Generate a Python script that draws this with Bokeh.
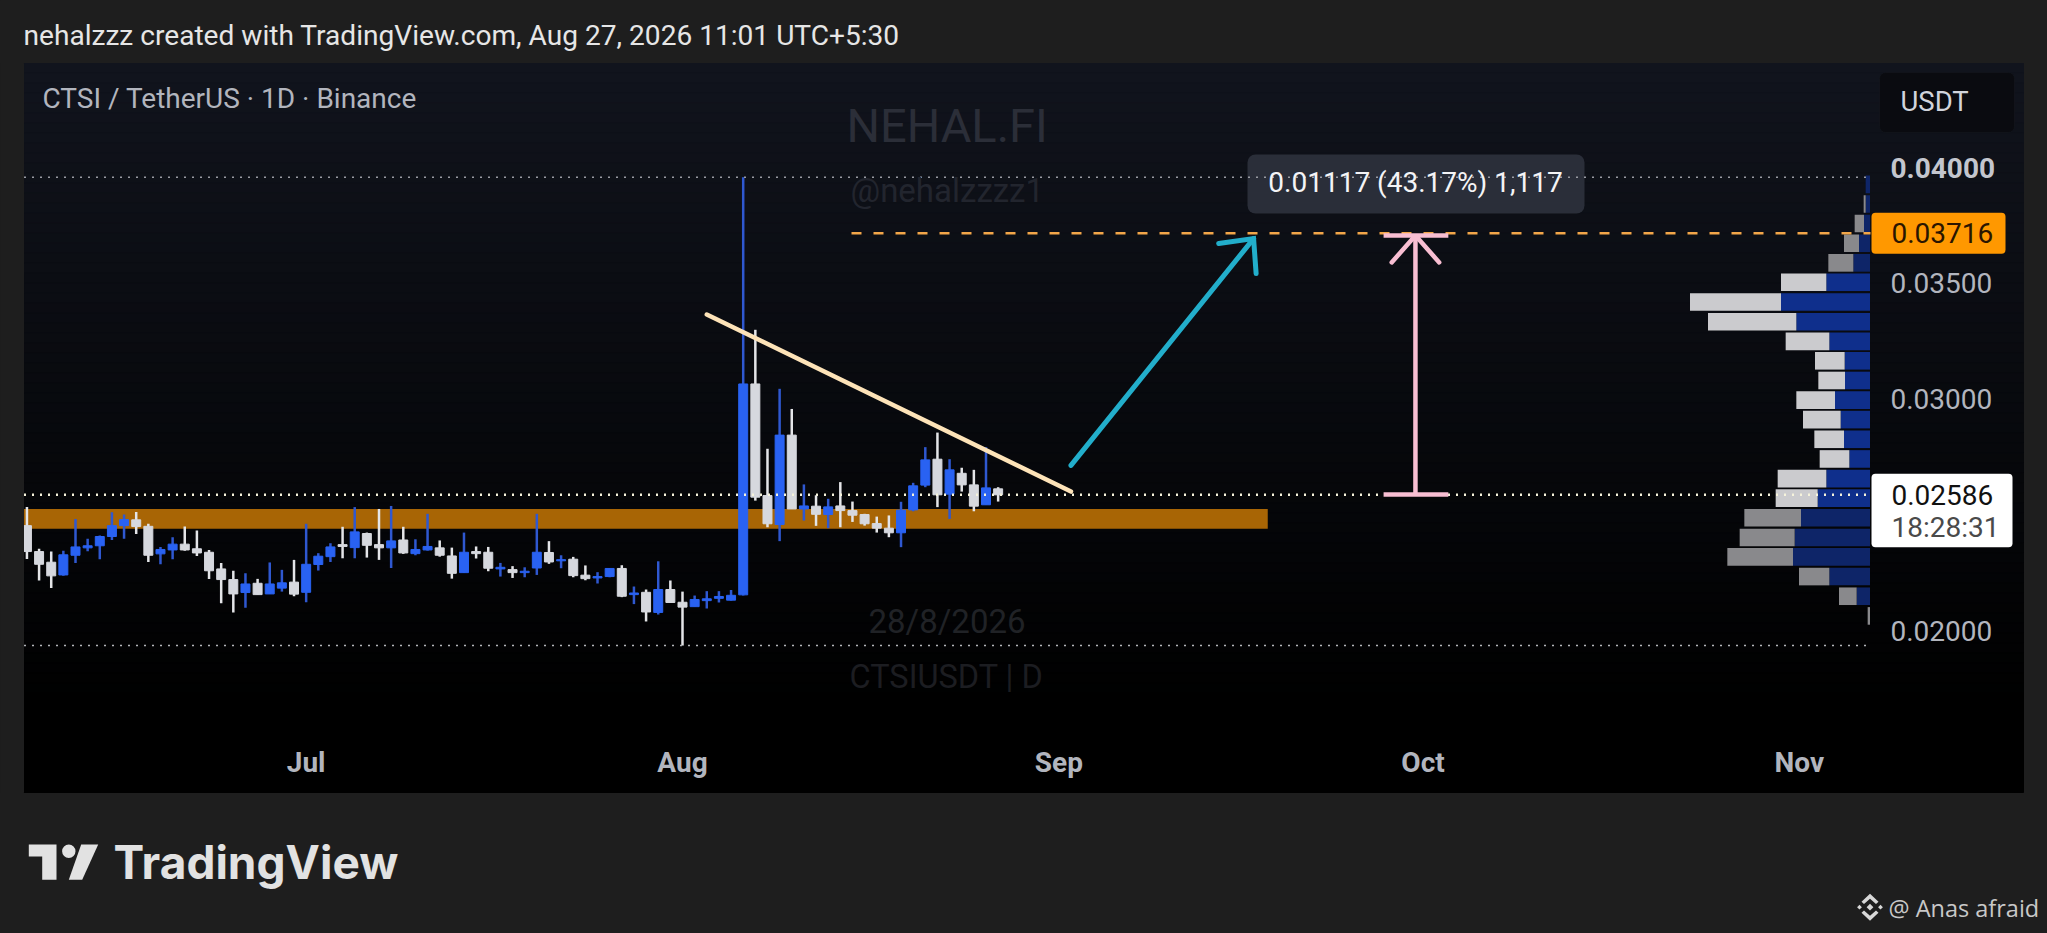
import numpy as np
import pandas as pd
from bokeh.embed import file_html
from bokeh.resources import INLINE
from bokeh.plotting import figure
from bokeh.models import (Range1d, LinearAxis, DatetimeAxis, FixedTicker, NumeralTickFormatter,
                          DatetimeTickFormatter, Label, BoxAnnotation)

# ---------- chart data (prices in points, 1 point = 0.00001 USDT) ----------
first_day = "2026-06-08"
opens_pts = [2453,2341,2295,2240,2325,2357,2366,2406,2453,2478,2450,2331,2348,2373,2353,2338,2266,2220,2164,2204,
             2158,2183,2209,2165,2285,2319,2371,2358,2419,2371,2357,2391,2332,2348,2357,2322,2250,2341,2338,2266,
             2263,2250,2270,2337,2301,2308,2239,2227,2233,2268,2155,2165,2078,2177,2122,2103,2129,2139,2131,2154,
             3065,2583,2458,2844,2525,2537,2501,2538,2518,2501,2462,2442,2422,2521,2628,2740,2589,2679,2629,2543,2612]
highs_pts = [2533,2353,2341,2345,2482,2396,2410,2511,2501,2512,2461,2361,2403,2449,2432,2348,2292,2258,2247,2223,
             2294,2262,2305,2461,2334,2377,2448,2533,2423,2525,2538,2448,2394,2504,2389,2358,2423,2363,2361,2292,
             2278,2273,2504,2386,2325,2318,2281,2252,2268,2282,2190,2177,2299,2216,2168,2151,2170,2170,2175,3958,
             3299,2785,3044,2957,2631,2584,2569,2641,2557,2504,2492,2497,2556,2638,2792,2855,2740,2703,2694,2792,2619]
lows_pts = [2309,2216,2184,2237,2292,2342,2308,2391,2396,2417,2296,2286,2308,2345,2322,2222,2118,2078,2098,2155,
            2158,2168,2148,2122,2259,2296,2312,2312,2315,2305,2270,2331,2325,2345,2319,2224,2249,2311,2256,2233,
            2227,2230,2240,2288,2269,2230,2217,2203,2230,2144,2114,2039,2069,2121,1935,2103,2095,2121,2129,2151,
            2561,2446,2386,2525,2475,2452,2442,2446,2469,2453,2423,2403,2360,2515,2619,2533,2482,2600,2515,2544,2557]
closes_pts = [2341,2286,2236,2327,2361,2366,2406,2453,2479,2449,2325,2350,2373,2348,2335,2258,2220,2158,2201,2155,
              2201,2206,2157,2286,2321,2361,2363,2426,2368,2357,2387,2335,2350,2363,2325,2247,2338,2332,2269,2273,
              2250,2256,2338,2296,2306,2237,2224,2233,2268,2148,2162,2080,2177,2121,2101,2134,2137,2147,2152,3065,
              2576,2461,2844,2525,2538,2502,2534,2518,2498,2461,2442,2422,2520,2625,2737,2586,2694,2629,2537,2616,2586]

day_high_pts = 3958
day_low_pts = 1935
last_pts = 2586
target_pts = 3716
band_top_pts, band_bottom_pts = 2525, 2440
band_dates = ["2026-06-07 18:00", "2026-09-18 05:00"]

trend_dates = ["2026-08-03 00:00", "2026-09-02 00:00"]
trend_pts = [3365, 2600]
arrow_dates = ["2026-09-02 00:00", "2026-09-17 01:00"]
arrow_pts = [2713, 3693]
head_dates = ["2026-09-14 04:00", "2026-09-17 01:00", "2026-09-17 06:00"]
head_pts = [3672, 3693, 3542]
pink_dates = ["2026-09-30 09:00", "2026-09-30 09:00"]
pink_pts = [2588, 3706]
pink_cap_dates = ["2026-09-27 18:00", "2026-10-03 02:00"]
pink_head_dates = ["2026-09-28 10:00", "2026-09-30 09:00", "2026-10-02 08:00"]
pink_head_pts = [3590, 3706, 3590]

vp_rows_pts = [3927,3842,3758,3673,3588,3504,3419,3334,3249,3165,3080,2995,2911,2826,2741,2656,2572,2487,2402,2318,2233,2148,2063]
vp_up = [13,13,18,33,50,131,267,221,122,76,75,105,88,78,62,131,157,207,226,231,122,40,0]
vp_down = [0,6,28,45,75,136,273,265,131,89,80,116,113,89,89,146,126,170,165,197,91,53,7]
vp_in_value_area = [0,0,0,0,0,1,1,1,1,1,1,1,1,1,1,1,1,0,0,0,0,0,0]

month_ticks = ["2026-07-01", "2026-08-01", "2026-09-01", "2026-10-01", "2026-11-01"]
price_ticks = [0.02, 0.03, 0.035]
bold_price_ticks = [0.04]

# ---------- scales: one price/time scale, one page-pixel scale for the chrome ----------
BG = "#1e1e1e"
PX_PER_DAY = 12.14
W, H = 2047, 933
aug1 = pd.Timestamp("2026-08-01")
def ms(ts):
    return (ts - pd.Timestamp("1970-01-01")) / pd.Timedelta(milliseconds=1)
x_start = ms(aug1 + pd.Timedelta(days=(0 - 682) / PX_PER_DAY))
x_end = ms(aug1 + pd.Timedelta(days=(W - 682) / PX_PER_DAY))
y_top = 0.04 + 167 / 23150
y_bot = 0.04 - (H - 167) / 23150

p = figure(width=W, height=H, output_backend="svg", toolbar_location=None,
           x_axis_type=None, y_axis_type=None,
           x_range=Range1d(x_start, x_end), y_range=Range1d(y_bot, y_top),
           background_fill_color=BG, border_fill_color=BG,
           min_border=0, min_border_left=0, min_border_right=0, min_border_top=0, min_border_bottom=0)
p.outline_line_color = None
p.grid.visible = False
p.extra_x_ranges["px"] = Range1d(0, W)
p.extra_y_ranges["px"] = Range1d(H, 0)
# volume profile: 0 at the price axis, growing leftwards (1 unit = 1/3 px)
p.extra_x_ranges["vp"] = Range1d(1869.5 * 3, (1869.5 - W) * 3)

PX = dict(x_range_name="px", y_range_name="px")

# ---------- panel gradient ----------
P_L, P_R, P_T, P_B = 23.5, 2023, 63, 792
edges = np.linspace(P_T, P_B, 74)
cols = []
for e in edges[:-1]:
    t = min(1.0, (e - P_T) / (700 - P_T))
    cols.append("#%02x%02x%02x" % (round(17 * (1 - t)), round(20 * (1 - t)), round(29 * (1 - t))))
p.quad(left=P_L, right=P_R, top=edges[:-1], bottom=edges[1:], fill_color=cols, line_color=cols,
       level="image", **PX)

def label(x, y, text, size, color, align="left", style="normal", font="Roboto"):
    lb = Label(x=x, y=y, text=text, text_font=font, text_font_size=f"{size}px", text_color=color,
               text_align=align, text_baseline="middle", text_font_style=style, **PX)
    p.add_layout(lb)
    return lb

# ---------- watermark ----------
label(846, 125, "NEHAL.FI", 47, "#2b2e38")
label(850, 190, "@nehalzzzz1", 33, "#22252e")
label(868, 621, "28/8/2026", 33, "#202226")
label(849, 676, "CTSIUSDT | D", 32.5, "#1c1d21")

# tooltip box under the dotted high line
p.add_layout(BoxAnnotation(left=1247, right=1584, top=154, bottom=213, fill_color="#2a2e39", fill_alpha=1,
                           line_color=None, border_radius=8, level="underlay", **PX))

# ---------- band ----------
p.quad(left=pd.to_datetime(band_dates[:1]), right=pd.to_datetime(band_dates[1:]),
       top=[band_top_pts * 1e-5], bottom=[band_bottom_pts * 1e-5], fill_color="#a86505", line_color=None)

# ---------- candles ----------
dates = pd.date_range(first_day, periods=len(opens_pts), freq="D")
o = np.array(opens_pts) * 1e-5
h = np.array(highs_pts) * 1e-5
l = np.array(lows_pts) * 1e-5
c = np.array(closes_pts) * 1e-5
up = c >= o
wick_col = ["#2f58d0" if u else "#e4e5e8" for u in up]
body_col = ["#2962f2" if u else "#d6d8de" for u in up]
p.segment(x0=dates, x1=dates, y0=l, y1=h, line_color=wick_col, line_width=2.5)
p.vbar(x=dates, width=0.74 * 86400000, top=np.maximum(o, c), bottom=np.minimum(o, c),
       fill_color=body_col, line_color=body_col, line_width=1)

# ---------- volume profile ----------
rows = np.array(vp_rows_pts) * 1e-5
vu = np.array(vp_up)
vd = np.array(vp_down)
blue_cols = ["#0f2f8c" if a else "#0e2568" for a in vp_in_value_area]
grey_cols = ["#cbcbce" if a else "#89898c" for a in vp_in_value_area]
p.hbar(y=rows, height=76e-5 / 1, left=0, right=vu, fill_color=blue_cols, line_color=None, x_range_name="vp")
p.hbar(y=rows, height=76e-5 / 1, left=vu, right=vu + vd, fill_color=grey_cols, line_color=None, x_range_name="vp")

# ---------- extended levels ----------
p.line([P_L, 1870], [day_high_pts * 1e-5] * 2, line_color="#9a9ca3", line_width=1.5, line_dash="2 6", x_range_name="px")
p.line([P_L, 1870], [day_low_pts * 1e-5] * 2, line_color="#b5b6ba", line_width=1.5, line_dash="2 6", x_range_name="px")
p.line([P_L, 1870], [last_pts * 1e-5] * 2, line_color="#f6f3dc", line_width=2.5, line_dash="2 6", x_range_name="px")
p.line([851, 1870], [target_pts * 1e-5] * 2, line_color="#f2a649", line_width=2.5, line_dash="10 12", x_range_name="px")

# ---------- drawings ----------
def pts(a):
    return np.array(a) * 1e-5
p.line(pd.to_datetime(trend_dates), pts(trend_pts), line_color="#fde3b8", line_width=4.5, line_cap="round")
p.line(pd.to_datetime(arrow_dates), pts(arrow_pts), line_color="#22aecb", line_width=5, line_cap="round")
p.line(pd.to_datetime(head_dates), pts(head_pts), line_color="#22aecb", line_width=5, line_cap="round", line_join="miter")
pink = "#f8bed2"
p.line(pd.to_datetime(pink_dates), pts(pink_pts), line_color=pink, line_width=4.5)
p.line(pd.to_datetime(pink_head_dates), pts(pink_head_pts), line_color=pink, line_width=4.5, line_cap="round")
p.line(pd.to_datetime(pink_cap_dates), pts([pink_pts[0]] * 2), line_color=pink, line_width=4.5)
p.line(pd.to_datetime(pink_cap_dates), pts([pink_pts[1]] * 2), line_color=pink, line_width=4.5)

# margin strip: keeps the first candle inside the panel
p.quad(left=[0], right=[P_L], top=[P_T], bottom=[P_B], fill_color=BG, line_color=None, **PX)

# ---------- axes ----------
AX = "#b2b5be"
yax = LinearAxis(x_range_name="px", fixed_location=1870, ticker=FixedTicker(ticks=price_ticks),
                 formatter=NumeralTickFormatter(format="0.00000"))
yax2 = LinearAxis(x_range_name="px", fixed_location=1870, ticker=FixedTicker(ticks=bold_price_ticks),
                  formatter=NumeralTickFormatter(format="0.00000"))
for ax, st, col in ((yax, "normal", AX), (yax2, "bold", "#c3c6ce")):
    ax.axis_line_color = None
    ax.major_tick_line_color = None
    ax.minor_tick_line_color = None
    ax.major_label_standoff = 14
    ax.major_label_text_font = "Roboto"
    ax.major_label_text_font_size = "28px"
    ax.major_label_text_font_style = st
    ax.major_label_text_color = col
    p.add_layout(ax, "right")

xax = DatetimeAxis(y_range_name="px", fixed_location=732,
                   ticker=FixedTicker(ticks=[ms(pd.Timestamp(m)) for m in month_ticks]),
                   formatter=DatetimeTickFormatter(milliseconds="%b", seconds="%b", minsec="%b", minutes="%b",
                                                   hourmin="%b", hours="%b", days="%b", months="%b", years="%b",
                                                   context=None))
xax.axis_line_color = None
xax.major_tick_line_color = None
xax.minor_tick_line_color = None
xax.major_label_standoff = 7
xax.major_label_text_font = "Roboto"
xax.major_label_text_font_size = "28px"
xax.major_label_text_font_style = "bold"
xax.major_label_text_color = AX
p.add_layout(xax, "below")

# ---------- price tags ----------
p.add_layout(BoxAnnotation(left=1871, right=2005, top=212.3, bottom=253.3, fill_color="#ff9800", fill_alpha=1,
                           line_color=None, border_radius=4, **PX))
label(1891, 232.7, "0.03716", 28, "#2a1500")
p.add_layout(BoxAnnotation(left=1871, right=2012, top=473.3, bottom=546.7, fill_color="#ffffff", fill_alpha=1,
                           line_color=None, border_radius=4, **PX))
label(1891, 494, "0.02586", 28, "#111111")
label(1891, 527, "18:28:31", 28, "#4a4a4a")
p.add_layout(BoxAnnotation(left=1879, right=2014, top=72, bottom=132, fill_color="#0a0b10", fill_alpha=1,
                           line_color="#1f2128", line_width=1, border_radius=6, **PX))
label(1900, 101, "USDT", 27.5, "#d1d4dc")

# ---------- texts ----------
label(1415, 182, "0.01117 (43.17%) 1,117", 28, "#f4f4f6", align="center")
label(23, 35, "nehalzzz created with TradingView.com, Aug 27, 2026 11:01 UTC+5:30", 28.1, "#e6e6e6")
label(42, 98, "CTSI / TetherUS \u00b7 1D \u00b7 Binance", 28, "#b2b5be")

# ---------- TradingView mark ----------
LOGO = "#e2e2e2"
p.patch([28.3, 56, 56, 41.7, 41.7, 28.3], [844, 844, 879.3, 879.3, 856, 856], fill_color=LOGO, line_color=None, **PX)
p.patch([80.7, 97.7, 81.7, 68.3], [844, 844, 879.3, 879.3], fill_color=LOGO, line_color=None, **PX)
p.circle([68.3], [850.7], radius=6.7, fill_color=LOGO, line_color=None, **PX)
label(113, 861.5, "TradingView", 46, LOGO, style="bold", font="Inter")

# ---------- Binance mark and credit ----------
BN = "#d8d8d8"
cx, cy = 1869.5, 906.7
for dx, dy, r in ((0, 0, 3.4), (-10.5, 0, 2.4), (10.5, 0, 2.4)):
    p.patch([cx + dx - r, cx + dx, cx + dx + r, cx + dx], [cy + dy, cy + dy - r, cy + dy, cy + dy + r],
            fill_color=BN, line_color=None, **PX)
for s in (-1, 1):
    p.patch([cx - 8.5, cx, cx + 8.5, cx + 6, cx, cx - 6],
            [cy + s * 5.5, cy + s * 13.5, cy + s * 5.5, cy + s * 3.2, cy + s * 8.5, cy + s * 3.2],
            fill_color=BN, line_color=None, **PX)
label(1888, 907, "@ Anas afraid", 23.5, "#c8c8c8", font="Open Sans")

html = file_html(p, INLINE)
html = html.replace("<head>", f"<head><style>html,body{{background:{BG};overflow:hidden;}}</style>", 1)
open("out.html", "w").write(html)
